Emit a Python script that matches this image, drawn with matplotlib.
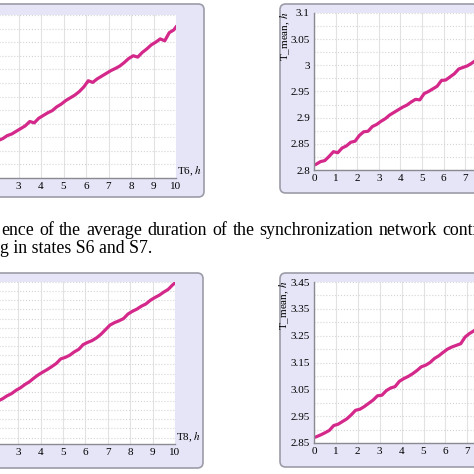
import matplotlib
matplotlib.use("Agg")
import matplotlib.pyplot as plt
from matplotlib.patches import FancyBboxPatch
from matplotlib.ticker import MultipleLocator, FuncFormatter

plt.rcParams['font.family'] = 'Liberation Serif'
plt.rcParams['mathtext.fontset'] = 'stix'

# time grid, h
t = [0.1, 0.3, 0.5, 0.7, 0.9, 1.1, 1.3, 1.5, 1.7, 1.9,
     2.1, 2.3, 2.5, 2.7, 2.9, 3.1, 3.3, 3.5, 3.7, 3.9,
     4.1, 4.3, 4.5, 4.7, 4.9, 5.1, 5.3, 5.5, 5.7, 5.9,
     6.1, 6.3, 6.5, 6.7, 6.9, 7.1, 7.3, 7.5, 7.7, 7.9,
     8.1, 8.3, 8.5, 8.7, 8.9, 9.1, 9.3, 9.5, 9.7, 9.9, 10.0]

# T_mean vs T6 (top left)
tm_t6 = [2.652, 2.660, 2.668, 2.676, 2.683, 2.692, 2.700, 2.708, 2.716, 2.726,
         2.738, 2.745, 2.756, 2.762, 2.772, 2.782, 2.792, 2.808, 2.803, 2.820,
         2.830, 2.840, 2.848, 2.862, 2.872, 2.885, 2.895, 2.905, 2.918, 2.935,
         2.958, 2.952, 2.965, 2.975, 2.985, 2.995, 3.003, 3.012, 3.025, 3.040,
         3.050, 3.045, 3.062, 3.075, 3.090, 3.100, 3.112, 3.105, 3.135, 3.145, 3.156]

# T_mean vs T7 (top right)
tm_t7 = [2.811, 2.816, 2.818, 2.826, 2.835, 2.833, 2.842, 2.846, 2.853, 2.855,
         2.866, 2.873, 2.874, 2.883, 2.887, 2.893, 2.898, 2.905, 2.910, 2.915,
         2.920, 2.924, 2.930, 2.935, 2.934, 2.946, 2.950, 2.955, 2.960, 2.971,
         2.972, 2.978, 2.984, 2.993, 2.996, 2.999, 3.004, 3.010, 3.014, 3.020,
         3.024, 3.030, 3.033, 3.040, 3.045, 3.048, 3.055, 3.060, 3.064, 3.070, 3.072]

# T_mean vs T8 (bottom left)
tm_t8 = [2.895, 2.910, 2.925, 2.942, 2.958, 2.972, 2.990, 3.005, 3.020, 3.036,
         3.050, 3.062, 3.078, 3.090, 3.108, 3.122, 3.140, 3.155, 3.175, 3.193,
         3.208, 3.222, 3.238, 3.255, 3.280, 3.288, 3.300, 3.318, 3.332, 3.358,
         3.370, 3.380, 3.395, 3.415, 3.440, 3.465, 3.478, 3.488, 3.500, 3.525,
         3.540, 3.552, 3.568, 3.580, 3.600, 3.615, 3.628, 3.645, 3.660, 3.685, 3.695]

# T_mean vs T9 (bottom right)
tm_t9 = [2.873, 2.880, 2.888, 2.897, 2.915, 2.920, 2.930, 2.940, 2.955, 2.972,
         2.976, 2.986, 2.998, 3.010, 3.026, 3.028, 3.045, 3.055, 3.060, 3.080,
         3.090, 3.098, 3.108, 3.120, 3.134, 3.140, 3.150, 3.165, 3.175, 3.188,
         3.200, 3.208, 3.214, 3.220, 3.245, 3.258, 3.268, 3.280, 3.290, 3.302,
         3.312, 3.322, 3.335, 3.345, 3.355, 3.368, 3.378, 3.390, 3.400, 3.410, 3.415]

caption1 = ["ence", "of", "the", "average", "duration", "of", "the",
            "synchronization", "network", "control"]
caption2 = "g in states S6 and S7."

W = 474.0
fig = plt.figure(figsize=(4.74, 4.74), dpi=100)

def px(x0, y0, x1, y1):
    # pixel box -> figure rect
    return [x0 / W, 1 - y1 / W, (x1 - x0) / W, (y1 - y0) / W]

#cadres lavande
for (x0, y0, x1, y1) in [(-20, 4, 204, 197), (280, 4, 500, 193),
                         (-20, 273, 203, 468), (280, 273, 500, 467)]:
    r = px(x0, y0, x1, y1)
    box = FancyBboxPatch((r[0], r[1]), r[2], r[3],
                         boxstyle="round,pad=0,rounding_size=0.012",
                         transform=fig.transFigure, facecolor='#e5e5f7',
                         edgecolor='#9c9ca8', linewidth=1.2, zorder=-1)
    fig.patches.append(box)

line_col = '#d4288a'
fmt = FuncFormatter(lambda v, p: '%g' % round(v, 2))

def panel(rect, y, ylim, ymaj, xlabel=None, ylab=False):
    ax = fig.add_axes(rect)
    ax.set_facecolor('white')
    ax.plot(t, y, color=line_col, linewidth=2.3)
    ax.set_xlim(0, 10)
    ax.set_ylim(*ylim)
    ax.xaxis.set_major_locator(MultipleLocator(1))
    ax.yaxis.set_major_locator(MultipleLocator(ymaj))
    ax.yaxis.set_minor_locator(MultipleLocator(ymaj / 2))
    ax.yaxis.set_major_formatter(fmt)
    ax.grid(True, which='major', axis='x', color='#e2e2e2', linewidth=0.8)
    ax.grid(True, which='both', axis='y', color='#d4d4d4', linewidth=0.8, linestyle=':')
    ax.set_axisbelow(True)
    for s in ['top', 'right']:
        ax.spines[s].set_visible(False)
    for s in ['left', 'bottom']:
        ax.spines[s].set_color('#8a8a92')
        ax.spines[s].set_linewidth(1.0)
    ax.tick_params(which='both', length=0, labelsize=8, pad=3)
    if xlabel:
        ax.text(1.005, 0.0, xlabel, transform=ax.transAxes, fontsize=8,
                ha='left', va='bottom')
    if ylab:
        ax.text(-0.135, 1.01, "T_mean, $h$", transform=ax.transAxes, fontsize=8,
                rotation=90, ha='center', va='top')
    return ax

ax1 = panel(px(-49, 15, 176, 178), tm_t6, (2.6, 3.2), 0.1, xlabel="T6, $h$")
ax2 = panel(px(314, 13, 530, 170), tm_t7, (2.8, 3.1), 0.05, ylab=True)
ax3 = panel(px(-49, 282, 175, 444), tm_t8, (2.815, 3.7), 0.1, xlabel="T8, $h$")
ax4 = panel(px(314, 282, 533, 443), tm_t9, (2.85, 3.45), 0.1, ylab=True)
ax4.set_yticks([2.85, 2.95, 3.05, 3.15, 3.25, 3.35, 3.45])
ax4.yaxis.set_minor_locator(MultipleLocator(0.05))
ax4.set_ylim(2.85, 3.45)

# legende justifiee : mesurer les mots puis repartir les espaces
rend = fig.canvas.get_renderer()
fs1 = 12.9
mots = [fig.text(0, 1 - 235 / W, w, fontsize=fs1, ha='left', va='baseline') for w in caption1]
larg = [m.get_window_extent(rend).width for m in mots]
# "cont" doit finir vers 473 px
tmp = fig.text(0, 0, "cont", fontsize=fs1)
cont = tmp.get_window_extent(rend).width
tmp.remove()
x = 1.0
esp = (473 - x - sum(larg[:-1]) - cont) / (len(caption1) - 1)
for m, w in zip(mots, larg):
    m.set_x(x / W)
    x += w + esp
fig.text(0.0, 1 - 253 / W, caption2, fontsize=12.8, ha='left', va='baseline')

fig.savefig("out.png", dpi=100)
